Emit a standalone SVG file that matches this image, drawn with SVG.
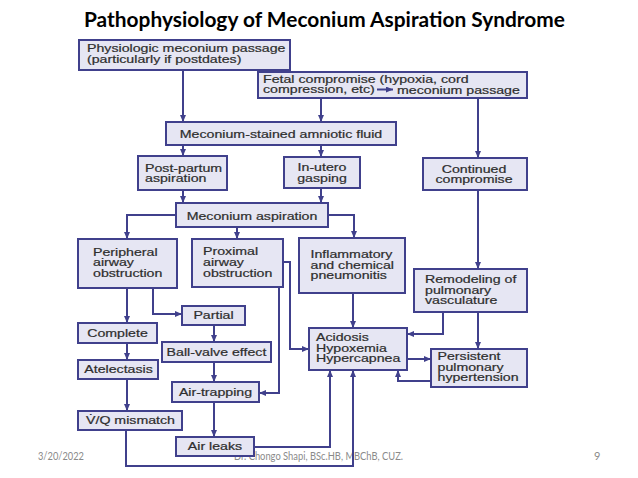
<svg xmlns="http://www.w3.org/2000/svg" width="638" height="478" viewBox="0 0 638 478">
<defs>
<style>
.bx{fill:#e6e6f3;stroke:#40408c;stroke-width:2}
.t{font-family:"Liberation Sans",Arial,sans-serif;font-size:10.5px;fill:#2e2e2e;stroke:#2e2e2e;stroke-width:0.2}
.c{fill:none;stroke:#40408c;stroke-width:2}
.ft{font-family:Lato,"Liberation Sans",sans-serif;font-size:11px;fill:#8a8a8a}
</style>
<marker id="ah" viewBox="0 0 7 6" refX="7" refY="3" markerWidth="7" markerHeight="6" markerUnits="userSpaceOnUse" orient="auto">
<path d="M0,0 L7,3 L0,6 z" fill="#40408c"/>
</marker>
</defs>
<rect width="638" height="478" fill="#ffffff"/>
<text x="84" y="27" font-family="Lato,'Liberation Sans',sans-serif" font-weight="bold" font-size="21" fill="#000" textLength="481" lengthAdjust="spacingAndGlyphs">Pathophysiology of Meconium Aspiration Syndrome</text>
<g id="footer">
<text class="ft" x="38" y="460" textLength="46" lengthAdjust="spacingAndGlyphs">3/20/2022</text>
<text class="ft" x="234" y="460" textLength="169" lengthAdjust="spacingAndGlyphs">Dr. Chongo Shapi, BSc.HB, MBChB, CUZ.</text>
<text class="ft" x="594" y="460">9</text>
</g>
<g id="connectors">
<path class="c" marker-end="url(#ah)" d="M183,70 V122"/>
<path class="c" marker-end="url(#ah)" d="M321,98 V122"/>
<path class="c" marker-end="url(#ah)" d="M478,98 V158"/>
<path class="c" marker-end="url(#ah)" d="M183,145 V156"/>
<path class="c" marker-end="url(#ah)" d="M321,145 V157"/>
<path class="c" marker-end="url(#ah)" d="M183,190 V203"/>
<path class="c" marker-end="url(#ah)" d="M321,188 V203"/>
<path class="c" marker-end="url(#ah)" d="M176,215 H127 V239"/>
<path class="c" marker-end="url(#ah)" d="M237,227 V239"/>
<path class="c" marker-end="url(#ah)" d="M328,215 H354 V238"/>
<path class="c" marker-end="url(#ah)" d="M478,190 V269"/>
<path class="c" marker-end="url(#ah)" d="M127,288 V323"/>
<path class="c" marker-end="url(#ah)" d="M153,288 V314 H182"/>
<path class="c" marker-end="url(#ah)" d="M283,262 H290 V349 H309"/>
<path class="c" marker-end="url(#ah)" d="M279,287 V393 H259"/>
<path class="c" marker-end="url(#ah)" d="M353,293 V328"/>
<path class="c" marker-end="url(#ah)" d="M443,312 V334 H407"/>
<path class="c" marker-end="url(#ah)" d="M478,312 V349"/>
<path class="c" marker-end="url(#ah)" d="M407,359 H431"/>
<path class="c" marker-end="url(#ah)" d="M431,381 H398 V370"/>
<path class="c" marker-end="url(#ah)" d="M214,325 V342"/>
<path class="c" marker-end="url(#ah)" d="M127,343 V360"/>
<path class="c" marker-end="url(#ah)" d="M214,362 V382"/>
<path class="c" marker-end="url(#ah)" d="M127,379 V411"/>
<path class="c" marker-end="url(#ah)" d="M214,402 V437"/>
<path class="c" marker-end="url(#ah)" d="M254,447 H330 V370"/>
<path class="c" marker-end="url(#ah)" d="M126,430 V466 H353 V370"/>
</g>
<g id="physiologic">
<rect class="bx" x="79" y="40" width="211" height="30"/>
<text class="t" transform="translate(87,51.5) scale(1.35,1)"><tspan x="0" y="0">Physiologic meconium passage</tspan><tspan x="0" y="11.5">(particularly if postdates)</tspan></text>
</g>
<g id="fetal">
<rect class="bx" x="258" y="72" width="269" height="26"/>
<text class="t" transform="translate(263,82.5) scale(1.35,1)"><tspan x="0" y="0">Fetal compromise (hypoxia, cord</tspan><tspan x="0" y="11">compression, etc)</tspan></text>
<path class="c" stroke-width="1.5" marker-end="url(#ah)" d="M377,89.5 H393"/>
<text class="t" transform="translate(397,93.5) scale(1.35,1)">meconium passage</text>
</g>
<g id="msaf">
<rect class="bx" x="166" y="122" width="230" height="23"/>
<text class="t" text-anchor="middle" transform="translate(281,137.5) scale(1.35,1)">Meconium-stained amniotic fluid</text>
</g>
<g id="postpartum">
<rect class="bx" x="138" y="156" width="89" height="34"/>
<text class="t" transform="translate(145,171.5) scale(1.35,1)"><tspan x="0" y="0">Post-partum</tspan><tspan x="0" y="11">aspiration</tspan></text>
</g>
<g id="inutero">
<rect class="bx" x="284" y="157" width="76" height="31"/>
<text class="t" text-anchor="middle" transform="translate(322,171) scale(1.35,1)"><tspan x="0" y="0">In-utero</tspan><tspan x="0" y="11">gasping</tspan></text>
</g>
<g id="continued">
<rect class="bx" x="423" y="158" width="104" height="32"/>
<text class="t" text-anchor="middle" transform="translate(474,172.5) scale(1.35,1)"><tspan x="0" y="0">Continued</tspan><tspan x="0" y="11">compromise</tspan></text>
</g>
<g id="meconium-aspiration">
<rect class="bx" x="176" y="203" width="152" height="24"/>
<text class="t" text-anchor="middle" transform="translate(252,219.5) scale(1.35,1)">Meconium aspiration</text>
</g>
<g id="peripheral">
<rect class="bx" x="78" y="239" width="99" height="49"/>
<text class="t" transform="translate(93,255.7) scale(1.35,1)"><tspan x="0" y="0">Peripheral</tspan><tspan x="0" y="10.8">airway</tspan><tspan x="0" y="21.6">obstruction</tspan></text>
</g>
<g id="proximal">
<rect class="bx" x="192" y="239" width="91" height="48"/>
<text class="t" transform="translate(203,255.2) scale(1.35,1)"><tspan x="0" y="0">Proximal</tspan><tspan x="0" y="10.8">airway</tspan><tspan x="0" y="21.6">obstruction</tspan></text>
</g>
<g id="inflammatory">
<rect class="bx" x="299" y="238" width="106" height="55"/>
<text class="t" transform="translate(310.5,258.3) scale(1.35,1)"><tspan x="0" y="0">Inflammatory</tspan><tspan x="0" y="10.6">and chemical</tspan><tspan x="0" y="21.2">pneumonitis</tspan></text>
</g>
<g id="remodeling">
<rect class="bx" x="414" y="269" width="113" height="43"/>
<text class="t" transform="translate(425,283.3) scale(1.35,1)"><tspan x="0" y="0">Remodeling of</tspan><tspan x="0" y="10.4">pulmonary</tspan><tspan x="0" y="20.8">vasculature</tspan></text>
</g>
<g id="partial">
<rect class="bx" x="182" y="306" width="63" height="19"/>
<text class="t" text-anchor="middle" transform="translate(213.5,319.3) scale(1.35,1)">Partial</text>
</g>
<g id="complete">
<rect class="bx" x="78" y="323" width="79" height="20"/>
<text class="t" text-anchor="middle" transform="translate(117.5,336.5) scale(1.35,1)">Complete</text>
</g>
<g id="ball-valve">
<rect class="bx" x="162" y="342" width="109" height="20"/>
<text class="t" text-anchor="middle" transform="translate(216.5,355.8) scale(1.35,1)">Ball-valve effect</text>
</g>
<g id="atelectasis">
<rect class="bx" x="78" y="360" width="80" height="19"/>
<text class="t" text-anchor="middle" transform="translate(118.5,373) scale(1.35,1)">Atelectasis</text>
</g>
<g id="acidosis">
<rect class="bx" x="309" y="328" width="98" height="42"/>
<text class="t" transform="translate(316,341) scale(1.35,1)"><tspan x="0" y="0">Acidosis</tspan><tspan x="0" y="10.7">Hypoxemia</tspan><tspan x="0" y="21.4">Hypercapnea</tspan></text>
</g>
<g id="persistent">
<rect class="bx" x="431" y="349" width="96" height="38"/>
<text class="t" transform="translate(437.5,360.2) scale(1.35,1)"><tspan x="0" y="0">Persistent</tspan><tspan x="0" y="10.5">pulmonary</tspan><tspan x="0" y="21">hypertension</tspan></text>
</g>
<g id="air-trapping">
<rect class="bx" x="172" y="382" width="87" height="20"/>
<text class="t" text-anchor="middle" transform="translate(215.5,396) scale(1.35,1)">Air-trapping</text>
</g>
<g id="vq-mismatch">
<rect class="bx" x="78" y="411" width="104" height="19"/>
<text class="t" text-anchor="middle" transform="translate(130.5,424) scale(1.35,1)">V̇/Q mismatch</text>
</g>
<g id="air-leaks">
<rect class="bx" x="176" y="437" width="78" height="19"/>
<text class="t" text-anchor="middle" transform="translate(215,450.3) scale(1.35,1)">Air leaks</text>
</g>
</svg>
